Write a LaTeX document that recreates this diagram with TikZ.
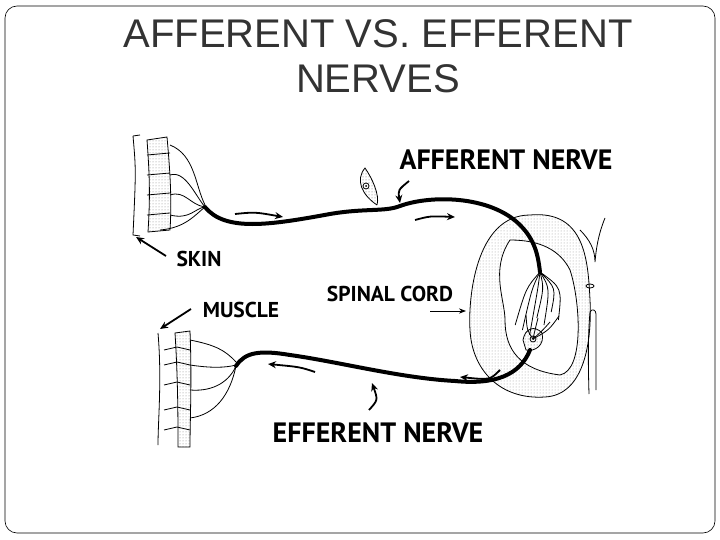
\documentclass[tikz,border=0pt]{standalone}
\usepackage{fontspec}
\setmainfont{Liberation Sans}
\newfontfamily\lbl{PT Sans}
\usetikzlibrary{arrows.meta,patterns}
\begin{document}
\begin{tikzpicture}[x=1pt,y=-1pt,
  nerve/.style={line width=4pt,line cap=round},
  thin/.style={line width=0.8pt},
  lab/.style={font=\lbl\bfseries\fontsize{21.5}{21.5}\selectfont,inner sep=0pt},
  bigl/.style={font=\lbl\bfseries\fontsize{28}{28}\selectfont,inner sep=0pt},
  pa/.style={line width=1.8pt,-{Stealth[length=8pt,width=7pt]}},
  title/.style={font=\fontsize{40}{40}\selectfont,text=black!80,inner sep=0pt}]
\useasboundingbox (0,0) rectangle (720,540);
\draw[line width=0.6pt,rounded corners=12pt] (5,6) rectangle (715,533);
\node[title] (t1) at (378,34) {AFFERENT VS. EFFERENT};
\node[title] (t2) at (378,79) {NERVES};
% skin
\draw[thin] (133,136) -- (140,135) (133,136) .. controls (136,170) .. (133,235) -- (140,236);
\draw[thin,pattern=dots,pattern color=black!50] (147,140) .. controls (150,180) and (150,200) .. (148,232) -- (170,230) .. controls (172,200) and (170,170) .. (167,137) -- cycle;
\foreach \y in {155,175,195,215}{\draw[thin] (147,\y) -- (170,\y-2);}
\draw[thin] (170,145) .. controls (195,155) and (195,185) .. (205,205);
\draw[thin] (170,175) .. controls (185,170) and (195,195) .. (205,207);
\draw[thin] (170,195) .. controls (185,190) and (190,205) .. (205,207);
\draw[thin] (170,215) .. controls (190,220) and (195,208) .. (205,207);
\draw[thin] (160,230) .. controls (185,228) and (195,215) .. (205,207);
% muscle
\draw[thin] (158,333) .. controls (162,380) and (158,420) .. (158,445);
\draw[thin,pattern=dots,pattern color=black!50] (175,333) .. controls (178,380) and (178,420) .. (178,447) -- (190,447) .. controls (190,420) and (192,380) .. (190,331) -- cycle;
\foreach \y in {350,365,385,410,430}{\draw[thin] (164,\y) -- (177,\y-3) -- (190,\y);}
\draw[thin] (190,340) .. controls (215,345) and (225,350) .. (236,362);
\draw[thin] (190,365) .. controls (210,368) and (225,368) .. (236,365);
\draw[thin] (190,390) .. controls (215,392) and (230,380) .. (236,366);
\draw[thin] (190,418) .. controls (215,415) and (230,395) .. (236,366);
% spinal cord
\draw[thin,pattern=dots,pattern color=black!40] (530,215) .. controls (475,215) and (468,300) .. (470,330) .. controls (472,370) and (500,400) .. (545,397) .. controls (585,395) and (592,340) .. (590,300) .. controls (588,260) and (585,210) .. (530,215) -- cycle;
\draw[thin,fill=white] (510,240) .. controls (490,270) and (505,300) .. (505,320) .. controls (505,350) and (520,370) .. (560,375) .. controls (585,370) and (580,300) .. (570,270) .. controls (560,250) and (540,240) .. (510,240) -- cycle;
\draw[thin] (580,230) .. controls (590,240) and (595,250) .. (595,262) .. controls (596,250) and (598,235) .. (605,218);
\draw[thin] (590,286) ellipse (4pt and 2pt);
\draw[thin] (589,394) .. controls (588,360) and (588,335) .. (590,312) .. controls (592,308) and (596,310) .. (596,314) -- (596,390);
% gray matter dendrites
\foreach \dx/\e in {-14/325,-8/330,-2/335,4/318,10/325,16/312,22/320}{\draw[thin] (540,272) .. controls (540+\dx,288) .. (532+\dx*1.2,\e);}
\foreach \dx/\e in {-8/315,0/318,8/322,14/316}{\draw[thin] (533,339) .. controls (535+\dx,330) .. (538+\dx*1.5,\e);}
\draw[thin,pattern=dots,pattern color=black!60] (523,340) .. controls (525,328) and (535,325) .. (542,333) .. controls (545,345) and (535,352) .. (526,350) -- cycle;
\draw[thin] (533,339) circle (3pt); \fill (533,339) circle (1pt);
% afferent nerve
\coordinate (skinend) at (205,207);
\coordinate (cordin) at (540,272);
\draw[nerve] (skinend) .. controls (225,232) and (270,225) .. (330,214) .. controls (365,208) and (385,212) .. (400,206) .. controls (430,195) and (490,195) .. (520,225) .. controls (535,240) and (538,255) .. (cordin);
\draw[thin,pattern=dots,pattern color=black!60] (377,205) .. controls (362,195) and (355,180) .. (365,168) .. controls (372,178) and (380,195) .. (377,205);
\draw[thin] (366,186) circle (3pt); \fill (366,186) circle (1pt);
% efferent nerve
\coordinate (cell) at (530,350);
\coordinate (muscend) at (236,366);
\draw[nerve] (cell) .. controls (520,375) and (495,385) .. (455,381) .. controls (400,378) and (340,362) .. (290,355) .. controls (260,350) and (245,352) .. (muscend);
% flow arrows
\draw[pa] (235,214) .. controls (255,212) .. (283,217);
\draw[pa] (415,220) .. controls (430,216) .. (455,217);
\draw[pa] (500,370) .. controls (490,380) .. (460,377);
\draw[pa] (315,372) .. controls (300,367) .. (268,364);
% labels
\node[bigl] (aff) at (506,160) {AFFERENT NERVE};
\node[bigl] (eff) at (378,433) {EFFERENT NERVE};
\node[lab] (skin) at (199,259) {SKIN};
\node[lab] (musc) at (241,310) {MUSCLE};
\node[lab] (sc) at (390,294) {SPINAL CORD};
\draw[pa] (409,181) .. controls (398,190) .. (400,203);
\draw[pa] (369,410) .. controls (378,400) .. (372,383);
\draw[pa] (166,256) -- (136,237);
\draw[pa] (191,309) -- (160,329);
\draw[line width=1pt,-{Stealth[length=7pt]}] (430,311) -- (466,311);
\end{tikzpicture}
\end{document}
